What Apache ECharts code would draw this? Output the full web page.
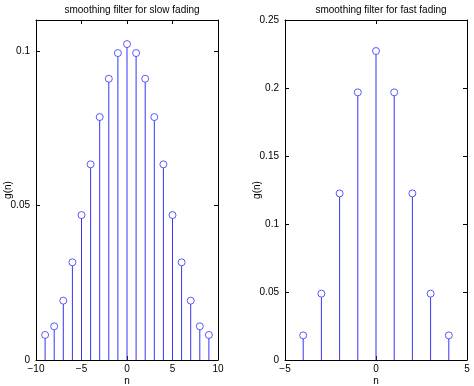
<!DOCTYPE html>
<html><head><meta charset="utf-8">
<script src="https://cdn.jsdelivr.net/npm/echarts@6/dist/echarts.min.js"></script>
<style>html,body{margin:0;padding:0;background:#fff}#c{width:474px;height:386px}</style>
</head><body><div id="c"></div>
<script>
const slowN = [-9,-8,-7,-6,-5,-4,-3,-2,-1,0,1,2,3,4,5,6,7,8,9];
const slowG = [0.0081,0.0109,0.0192,0.0316,0.0469,0.0633,0.0786,0.0910,0.0993,0.1022,0.0993,0.0910,0.0786,0.0633,0.0469,0.0316,0.0192,0.0109,0.0081];
const fastN = [-4,-3,-2,-1,0,1,2,3,4];
const fastG = [0.0181,0.0488,0.1225,0.1968,0.2272,0.1968,0.1225,0.0488,0.0181];
const titles = ['smoothing filter for slow fading','smoothing filter for fast fading'];
const xLabel = 'n', yLabel = 'g(n)';

const FONT = '"Liberation Sans", Arial, sans-serif';
const BLUE = '#3535f5';
const fmt = v => {
  const r = Math.round(v*1000)/1000;
  return String(r).replace('-', '\u2212');
};
function yfmt(step){ return v => { const k = v/step; return Math.abs(k-Math.round(k))<1e-6 ? fmt(v) : ''; }; }

const grids = [
  {left:36, top:20, width:182, height:340, outerBoundsMode:'none', containLabel:false},
  {left:285, top:20, width:182, height:340, outerBoundsMode:'none', containLabel:false}
];
const xr = [[-10,10,5],[-5,5,5]];
const yr = [[0,0.11,0.05],[0,0.25,0.05]];

const xAxes = [], yAxes = [], series = [];
[0,1].forEach(i=>{
  const base = {type:'value', gridIndex:i, min:xr[i][0], max:xr[i][1], interval:xr[i][2], splitLine:{show:false},
    axisLine:{show:true, onZero:false, lineStyle:{color:'#000', width:1}},
    axisTick:{inside:true, length:4, lineStyle:{color:'#000'}}};
  xAxes.push(Object.assign({}, base, {position:'bottom', name:xLabel, nameLocation:'middle', nameGap:16, nameMoveOverlap:false,
    nameTextStyle:{fontFamily:FONT, fontSize:10, color:'#000'},
    axisLabel:{fontFamily:FONT, fontSize:10, color:'#000', margin:4, formatter:fmt}}));
  xAxes.push(Object.assign({}, base, {position:'top', axisLabel:{show:false}}));
  const ybase = {type:'value', gridIndex:i, min:yr[i][0], max:yr[i][1], interval:yr[i][2], splitLine:{show:false},
    axisLine:{show:true, onZero:false, lineStyle:{color:'#000', width:1}},
    axisTick:{inside:true, length:4, lineStyle:{color:'#000'}}};
  yAxes.push(Object.assign({}, ybase, {position:'left', name:yLabel, nameLocation:'middle', nameGap:23, nameMoveOverlap:false, nameRotate:90,
    nameTextStyle:{fontFamily:FONT, fontSize:10, color:'#000'},
    axisLabel:{fontFamily:FONT, fontSize:10, color:'#000', margin:6, formatter:yfmt(yr[i][2])}}));
  yAxes.push(Object.assign({}, ybase, {position:'right', axisLabel:{show:false}}));
  const N = i===0?slowN:fastN, G = i===0?slowG:fastG;
  const data = N.map((n,k)=>[n,G[k]]);
  series.push({type:'custom', xAxisIndex:2*i, yAxisIndex:2*i, data:data, silent:true,
    renderItem:(params, api)=>{
      const p0 = api.coord([api.value(0), 0]);
      const p1 = api.coord([api.value(0), api.value(1)]);
      return {type:'line', shape:{x1:p0[0], y1:p0[1], x2:p1[0], y2:p1[1]+3.5},
        style:{stroke:BLUE, lineWidth:1}};
    }});
  series.push({type:'scatter', xAxisIndex:2*i, yAxisIndex:2*i, data:data, symbol:'circle', symbolSize:7,
    itemStyle:{color:'rgba(0,0,0,0)', borderColor:BLUE, borderWidth:1}, silent:true});
});

const chart = echarts.init(document.getElementById('c'), null, {renderer:'canvas'});
chart.setOption({
  animation:false,
  backgroundColor:'#fff',
  title: titles.map((t,i)=>({text:t, left: grids[i].left + grids[i].width/2, top:0, textAlign:'center',
    textStyle:{fontFamily:FONT, fontSize:10, fontWeight:'normal', color:'#000'}})),
  grid: grids,
  xAxis: xAxes,
  yAxis: yAxes,
  series: series
});
</script></body></html>
